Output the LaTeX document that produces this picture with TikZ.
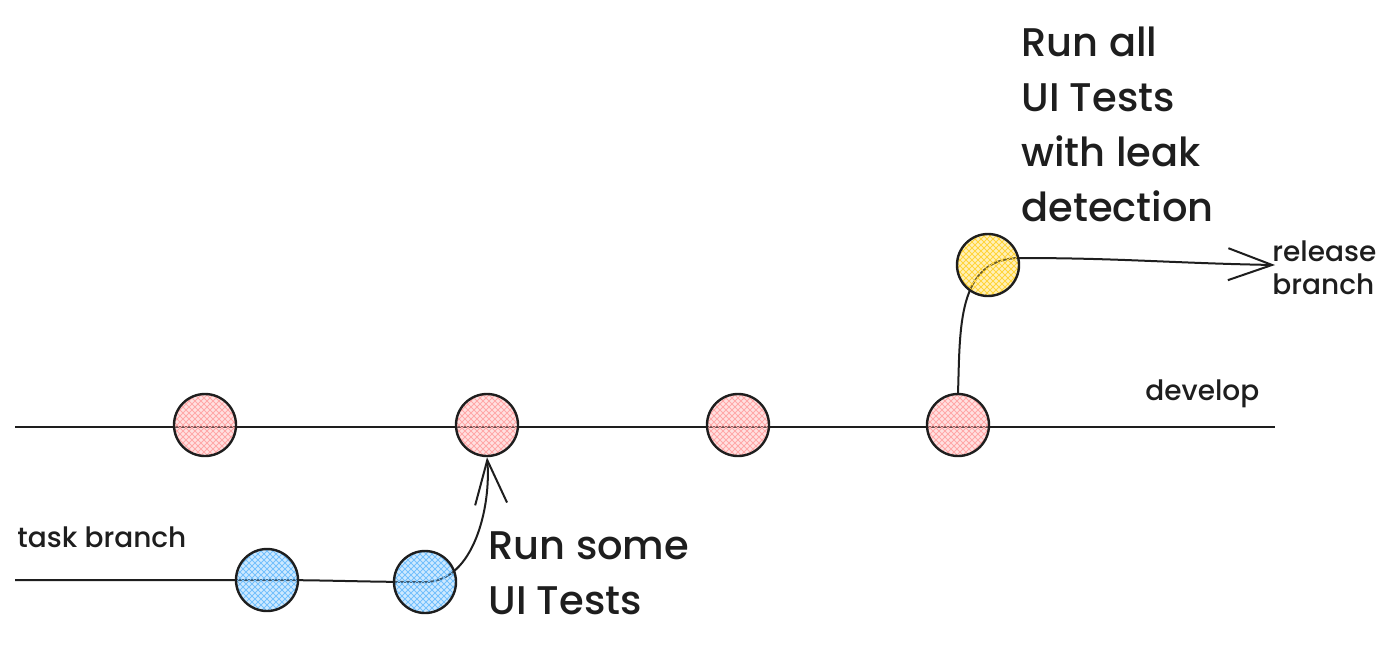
\documentclass[tikz,border=0pt]{standalone}
\usepackage{fontspec}
\setmainfont{Poppins}[UprightFont={* Medium}]
\usepackage{tikz}
\usetikzlibrary{arrows.meta,backgrounds,patterns}
\definecolor{gfInk}{HTML}{1E1E1E}
\definecolor{gfRed}{HTML}{FFC9C9}
\definecolor{gfRedHatch}{HTML}{FFA8A8}
\definecolor{gfBlue}{HTML}{A5D8FF}
\definecolor{gfBlueHatch}{HTML}{74C0FC}
\definecolor{gfYellow}{HTML}{FFEC99}
\definecolor{gfYellowHatch}{HTML}{FFD43B}
\tikzset{
  gf diagram/.style={x=0.5pt, y=-0.5pt, text=gfInk,
    line cap=round, line join=round},
  gf commit/.style={circle, draw=gfInk, line width=1.2pt, inner sep=0pt,
    minimum size=31pt},
  gf hatch/.style={preaction={fill=#1, fill opacity=0.35},
    preaction={pattern=north west lines, pattern color=#1},
    pattern=north east lines, pattern color=#1},
  gf dev/.style={gf commit, gf hatch=gfRedHatch},
  gf task/.style={gf commit, gf hatch=gfBlueHatch},
  gf rel/.style={gf commit, gf hatch=gfYellowHatch},
  gf line/.style={draw=gfInk, line width=1pt},
  gf arrow/.style={gf line, -{Straight Barb[length=22pt, width=16pt, line width=1pt]}},
  gf note/.style={font=\fontsize{20}{27.5}\selectfont, align=left,
    inner sep=0pt, anchor=north west},
  gf label/.style={font=\fontsize{14}{16.5}\selectfont, align=left,
    inner sep=0pt}
}
\begin{document}
\begin{tikzpicture}[gf diagram]
\useasboundingbox (0,0) rectangle (1400,644);
% commits
\node[gf dev] (d1) at (205,425) {};
\node[gf dev] (d2) at (487,425) {};
\node[gf dev] (d3) at (738,425) {};
\node[gf dev] (d4) at (958,425) {};
\node[gf task] (t1) at (267,580) {};
\node[gf task] (t2) at (425,582) {};
\node[gf rel] (r1) at (988,265) {};
% line ends
\coordinate (devStart) at (15,427);
\coordinate (devEnd) at (1275,427);
\coordinate (taskStart) at (15,580);
\coordinate (relEnd) at (1275,265);
% branches
\begin{scope}[on background layer]
\draw[gf line] (devStart) -- (devEnd);
\draw[gf line] (taskStart) -- (t1.center) to[out=0,in=180] (t2.center);
\draw[gf arrow] (t2.center) to[out=0,in=-85,looseness=0.9] (d2.south);
\draw[gf arrow] (d4.north) to[out=88,in=180,looseness=1.1] ([yshift=3.5pt]r1.east)
  to[out=0,in=179] (relEnd);
\end{scope}
% labels
\node[gf label, anchor=base west] (devLbl) at (1145,400) {develop};
\node[gf label, anchor=base west] (taskLbl) at (17,547) {task branch};
\node[gf label, anchor=north west] (relLbl) at (1272,240) {release\\branch};
\node[gf note] (someNote) at (488,531) {Run some\\UI Tests};
\node[gf note] (allNote) at (1021,26) {Run all\\UI Tests\\with leak\\detection};
\end{tikzpicture}
\end{document}
